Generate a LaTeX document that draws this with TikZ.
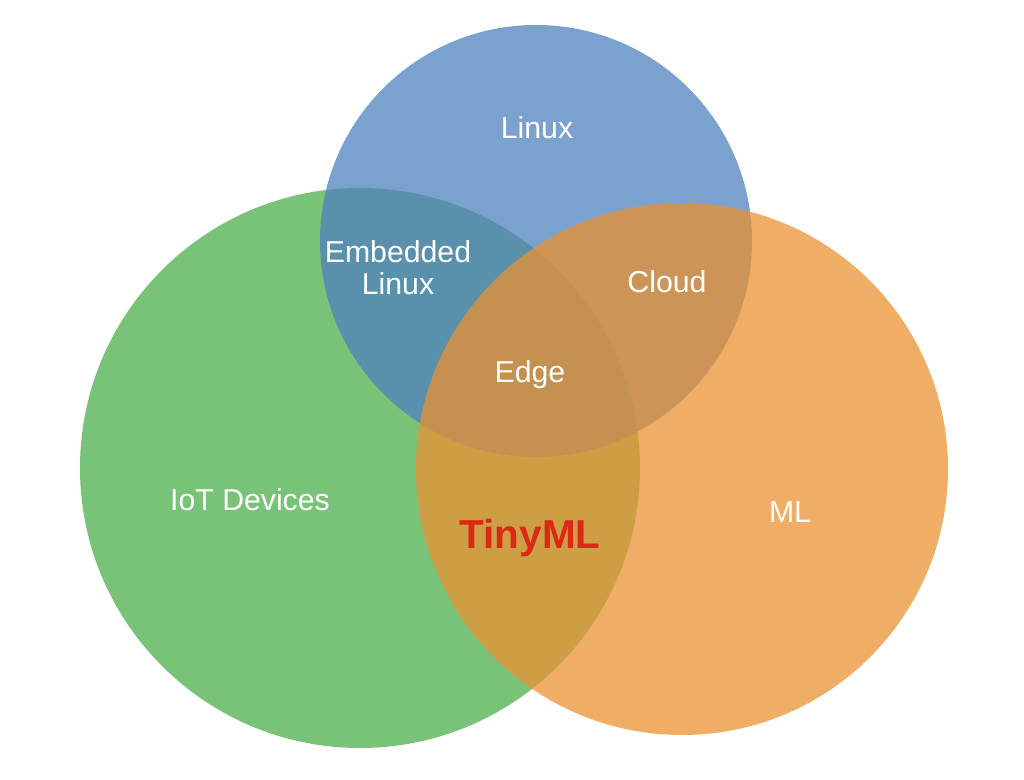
\documentclass[tikz,border=0pt]{standalone}
\usepackage{fontspec}
\setmainfont{Liberation Sans}
\begin{document}
\begin{tikzpicture}[x=0.01cm,y=-0.01cm,
    setcircle/.style={fill opacity=0.75, draw=none},
    setlabel/.style={text=white, font=\fontsize{8.6pt}{10pt}\selectfont, align=center}]
    \useasboundingbox (0,0) rectangle (1024,780);
    % Sets
    \fill[setcircle, fill=green!55!black!70!white!100] (360,468) circle (280);
    \fill[setcircle, fill={rgb,255:red,79;green,129;blue,189}] (536,241) circle (216);
    \fill[setcircle, fill={rgb,255:red,234;green,145;blue,50}] (682,469) circle (266);

    % Labels
    \node[setlabel] (linux) at (537,128) {Linux};
    \node[setlabel] (emb) at (398,268) {Embedded\\[-1pt]Linux};
    \node[setlabel] (cloud) at (667,282) {Cloud};
    \node[setlabel] (edge) at (530,375) {Edge};
    \node[setlabel] (iot) at (250,500) {IoT Devices};
    \node[setlabel] (ml) at (790,512) {ML};
    \node[text={rgb,255:red,220;green,40;blue,20}, font=\fontsize{11.5pt}{13pt}\selectfont\bfseries] (tiny) at (530,538) {TinyML};
\end{tikzpicture}
\end{document}
